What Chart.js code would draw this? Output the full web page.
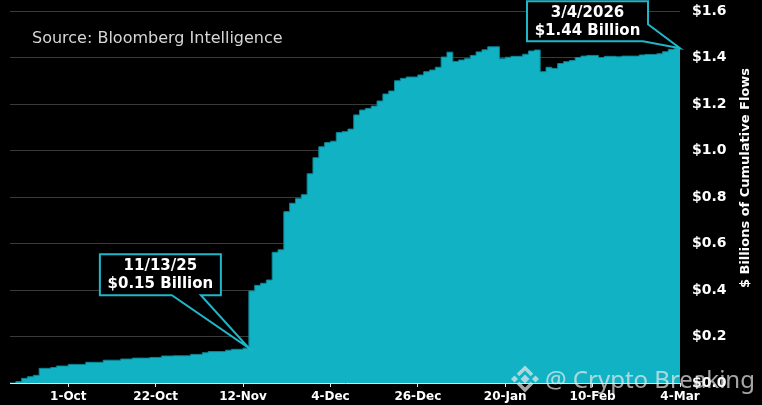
<!DOCTYPE html>
<html>
<head>
<meta charset="utf-8">
<script src="https://cdn.jsdelivr.net/npm/chart.js@4.4.1/dist/chart.umd.min.js"></script>
<style>
  html, body { margin: 0; padding: 0; background: #000; }
  #wrap { width: 762px; height: 405px; position: relative; }
</style>
</head>
<body>
<div id="wrap"><canvas id="flows"></canvas></div>
<script>
// trading days (first one is just the starting point of the step line)
var tradingDays = [
  '9/17/25','9/18/25','9/19/25','9/22/25','9/23/25','9/24/25','9/25/25','9/26/25','9/29/25','9/30/25',
  '10/1/25','10/2/25','10/3/25','10/6/25','10/7/25','10/8/25','10/9/25','10/10/25','10/13/25','10/14/25',
  '10/15/25','10/16/25','10/17/25','10/20/25','10/21/25','10/22/25','10/23/25','10/24/25','10/27/25','10/28/25',
  '10/29/25','10/30/25','10/31/25',
  '11/3/25','11/4/25','11/5/25','11/6/25','11/7/25','11/10/25','11/11/25','11/12/25','11/13/25','11/14/25',
  '11/17/25','11/18/25','11/19/25','11/20/25','11/21/25','11/24/25','11/25/25','11/26/25','11/28/25',
  '12/1/25','12/2/25','12/3/25','12/4/25','12/5/25','12/8/25','12/9/25','12/10/25','12/11/25','12/12/25',
  '12/15/25','12/16/25','12/17/25','12/18/25','12/19/25','12/22/25','12/23/25','12/24/25','12/26/25','12/29/25',
  '12/30/25','12/31/25',
  '1/2/26','1/5/26','1/6/26','1/7/26','1/8/26','1/9/26','1/12/26','1/13/26','1/14/26','1/15/26',
  '1/16/26','1/20/26','1/21/26','1/22/26','1/23/26','1/26/26','1/27/26','1/28/26','1/29/26','1/30/26',
  '2/2/26','2/3/26','2/4/26','2/5/26','2/6/26','2/9/26','2/10/26','2/11/26','2/12/26','2/13/26',
  '2/17/26','2/18/26','2/19/26','2/20/26','2/23/26','2/24/26','2/25/26','2/26/26','2/27/26',
  '3/2/26','3/3/26','3/4/26'
];

// cumulative flows, $ billions
var cumulativeFlows = [
  0, 0, 0.006, 0.020, 0.027, 0.033, 0.063, 0.063, 0.067, 0.073,
  0.073, 0.080, 0.080, 0.080, 0.089, 0.089, 0.089, 0.098, 0.098, 0.098,
  0.103, 0.103, 0.107, 0.107, 0.107, 0.110, 0.110, 0.116, 0.116, 0.117,
  0.117, 0.117, 0.123, 0.123, 0.130, 0.135, 0.135, 0.135, 0.141, 0.145,
  0.145, 0.150, 0.396, 0.420, 0.429, 0.443, 0.562, 0.573, 0.737, 0.773,
  0.793, 0.810, 0.900, 0.969, 1.016, 1.034, 1.040, 1.077, 1.081, 1.092,
  1.153, 1.174, 1.181, 1.191, 1.213, 1.243, 1.256, 1.300, 1.310, 1.316,
  1.316, 1.325, 1.339, 1.346, 1.358, 1.402, 1.423, 1.383, 1.389, 1.395,
  1.409, 1.424, 1.433, 1.446, 1.446, 1.395, 1.401, 1.405, 1.405, 1.414,
  1.428, 1.432, 1.339, 1.358, 1.353, 1.374, 1.382, 1.387, 1.400, 1.406,
  1.409, 1.409, 1.400, 1.405, 1.405, 1.403, 1.406, 1.406, 1.406, 1.411,
  1.413, 1.413, 1.416, 1.425, 1.435, 1.440
];

var tickDays = ['10/1/25','10/22/25','11/12/25','12/4/25','12/26/25','1/20/26','2/10/26','3/4/26'];
var tickLabels = ['1-Oct','22-Oct','12-Nov','4-Dec','26-Dec','20-Jan','10-Feb','4-Mar'];

var calloutDays = ['11/13/25', '3/4/26'];
var calloutText = [['11/13/25', '$0.15 Billion'], ['3/4/2026', '$1.44 Billion']];

var sourceText = 'Source: Bloomberg Intelligence';
var yTitle = '$ Billions of Cumulative Flows';
var watermark = '@ Crypto Breaking';

var tickText = {};
tickDays.forEach(function(d, i){ tickText[d] = tickLabels[i]; });

var FONT = 'DejaVu Sans';
var CYAN = '#12b2c5';
var BOX = '#1fb6ca';

function drawCallout(ctx, lines, box, pointer){
    ctx.save();
    ctx.beginPath();
    ctx.moveTo(box.x, box.y);
    pointer.forEach(function(p){ ctx.lineTo(p[0], p[1]); });
    ctx.closePath();
    ctx.fillStyle = '#000';
    ctx.fill();
    ctx.lineWidth = 2;
    ctx.strokeStyle = BOX;
    ctx.stroke();
    ctx.fillStyle = '#fff';
    ctx.font = 'bold 15px "' + FONT + '"';
    ctx.textAlign = 'center';
    ctx.textBaseline = 'middle';
    var cx = box.x + box.w / 2;
    ctx.fillText(lines[0], cx, box.y + 12);
    ctx.fillText(lines[1], cx, box.y + 30);
    ctx.restore();
}

function diamond(ctx, x, y, r){
    ctx.beginPath();
    ctx.moveTo(x, y - r);
    ctx.lineTo(x + r, y);
    ctx.lineTo(x, y + r);
    ctx.lineTo(x - r, y);
    ctx.closePath();
    ctx.fill();
}

var extras = {
    id: 'extras',
    afterDraw: function(chart){
        var ctx = chart.ctx;
        var xs = chart.scales.x, ys = chart.scales.y;

        // source note
        ctx.save();
        ctx.fillStyle = '#d6d6d6';
        ctx.font = '16px "' + FONT + '"';
        ctx.textBaseline = 'alphabetic';
        ctx.fillText(sourceText, 32, 43);

        // right axis title, reads bottom to top
        ctx.translate(746, 178);
        ctx.rotate(-Math.PI / 2);
        ctx.fillStyle = '#fff';
        ctx.font = 'bold 13px "' + FONT + '"';
        ctx.textAlign = 'center';
        ctx.textBaseline = 'middle';
        ctx.fillText(yTitle, 0, 0);
        ctx.restore();

        // callouts
        var i1 = tradingDays.indexOf(calloutDays[0]);
        var t1x = xs.getPixelForValue(i1), t1y = ys.getPixelForValue(cumulativeFlows[i1]);
        var b1 = {x: t1x - 149, y: t1y - 94, w: 121, h: 41};
        drawCallout(ctx, calloutText[0], b1, [
            [b1.x + b1.w, b1.y], [b1.x + b1.w, b1.y + b1.h], [b1.x + 101, b1.y + b1.h],
            [t1x, t1y], [b1.x + 72, b1.y + b1.h], [b1.x, b1.y + b1.h]
        ]);

        var i2 = tradingDays.indexOf(calloutDays[1]);
        var t2x = xs.getPixelForValue(i2), t2y = ys.getPixelForValue(cumulativeFlows[i2]);
        var b2 = {x: t2x - 153, y: t2y - 47, w: 121, h: 40};
        drawCallout(ctx, calloutText[1], b2, [
            [b2.x + b2.w, b2.y], [b2.x + b2.w, b2.y + 23], [t2x, t2y],
            [b2.x + b2.w - 5, b2.y + b2.h], [b2.x, b2.y + b2.h]
        ]);

        // watermark
        ctx.save();
        ctx.fillStyle = 'rgba(235,235,235,0.7)';
        ctx.strokeStyle = 'rgba(235,235,235,0.7)';
        var lx = 525, ly = 379;
        diamond(ctx, lx, ly, 4.5);
        diamond(ctx, lx - 10.5, ly, 3.5);
        diamond(ctx, lx + 10.5, ly, 3.5);
        ctx.lineWidth = 3.5;
        ctx.beginPath();
        ctx.moveTo(lx - 7, ly - 4); ctx.lineTo(lx, ly - 11); ctx.lineTo(lx + 7, ly - 4);
        ctx.moveTo(lx - 7, ly + 4); ctx.lineTo(lx, ly + 11); ctx.lineTo(lx + 7, ly + 4);
        ctx.stroke();
        ctx.font = '24px "Noto Sans"';
        ctx.textBaseline = 'alphabetic';
        ctx.fillText(watermark, 545, 388);
        ctx.restore();
    }
};

var ctx = document.getElementById('flows').getContext('2d');
var flowsChart = new Chart(ctx, {
    type: 'line',
    data: {
        labels: tradingDays,
        datasets: [{
            data: cumulativeFlows,
            stepped: 'after',
            fill: 'origin',
            backgroundColor: CYAN,
            borderColor: '#0b8796',
            borderWidth: 1,
            pointRadius: 0
        }]
    },
    options: {
        responsive: true,
        maintainAspectRatio: false,
        animation: false,
        devicePixelRatio: 1,
        layout: { padding: { left: 10, top: 11, right: 0, bottom: 0 } },
        plugins: { legend: { display: false }, tooltip: { enabled: false } },
        scales: {
            x: {
                type: 'category',
                offset: false,
                z: 1,
                grid: { drawOnChartArea: false, tickLength: 4, tickColor: '#e6e6e6' },
                border: { display: true, color: '#e6e6e6', width: 1 },
                ticks: {
                    autoSkip: false, maxRotation: 0, padding: 3, color: '#fff',
                    font: { family: FONT, weight: 'bold', size: 12 },
                    callback: function(v){ return tickText[this.getLabelForValue(v)]; }
                },
                afterBuildTicks: function(s){
                    s.ticks = s.ticks.filter(function(t){ return tickText[s.getLabelForValue(t.value)] !== undefined; });
                },
                afterFit: function(s){ s.height = 22; }
            },
            y: {
                position: 'right',
                min: 0, max: 1.6,
                grid: { color: '#3a3a3a', lineWidth: 1, drawTicks: false },
                border: { display: false },
                ticks: {
                    stepSize: 0.2, padding: 12, color: '#fff',
                    font: { family: FONT, weight: 'bold', size: 14 },
                    callback: function(v){ return '$' + v.toFixed(1); }
                },
                afterFit: function(s){ s.width = 82; s.paddingTop = 0; s.paddingBottom = 0; }
            }
        }
    },
    plugins: [extras]
});
</script>
</body>
</html>
